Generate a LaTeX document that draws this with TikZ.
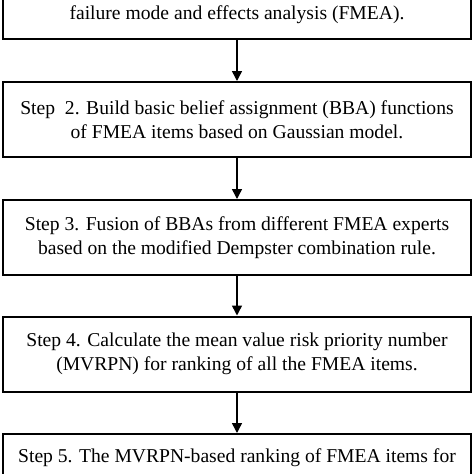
\documentclass[tikz,border=0pt]{standalone}
\usepackage{fontspec}
\setmainfont{Liberation Serif}
\usetikzlibrary{arrows.meta}
\begin{document}
\begin{tikzpicture}[x=1pt,y=-1pt,
  stepbox/.style={draw=black, line width=2pt, fill=white, minimum width=468pt,
    minimum height=75pt, inner sep=0pt, align=center,
    font=\fontsize{19.6pt}{24pt}\selectfont},
  flow/.style={line width=1.5pt, -{Triangle[length=10pt,width=10pt]}}]
\useasboundingbox (0,0) rectangle (474,474);
\clip (0,0) rectangle (474,474);
\fill[white] (0,0) rectangle (474,474);
\node[stepbox] (s1) at (237,1.5) {\strut\\failure mode and effects analysis (FMEA).};
\node[stepbox] (s2) at (237,119.5) {Step~~2. Build basic belief assignment (BBA) functions\\of FMEA items based on Gaussian model.};
\node[stepbox] (s3) at (237,237.5) {Step 3. Fusion of BBAs from different FMEA experts\\based on the modified Dempster combination rule.};
\node[stepbox] (s4) at (237,354) {Step 4. Calculate the mean value risk priority number\\(MVRPN) for ranking of all the FMEA items.};
\node[stepbox] (s5) at (237,471.5) {Step 5. The MVRPN-based ranking of FMEA items for\\\strut};
\draw[flow] (s1) -- (s2);
\draw[flow] (s2) -- (s3);
\draw[flow] (s3) -- (s4);
\draw[flow] (s4) -- (s5);
\end{tikzpicture}
\end{document}
